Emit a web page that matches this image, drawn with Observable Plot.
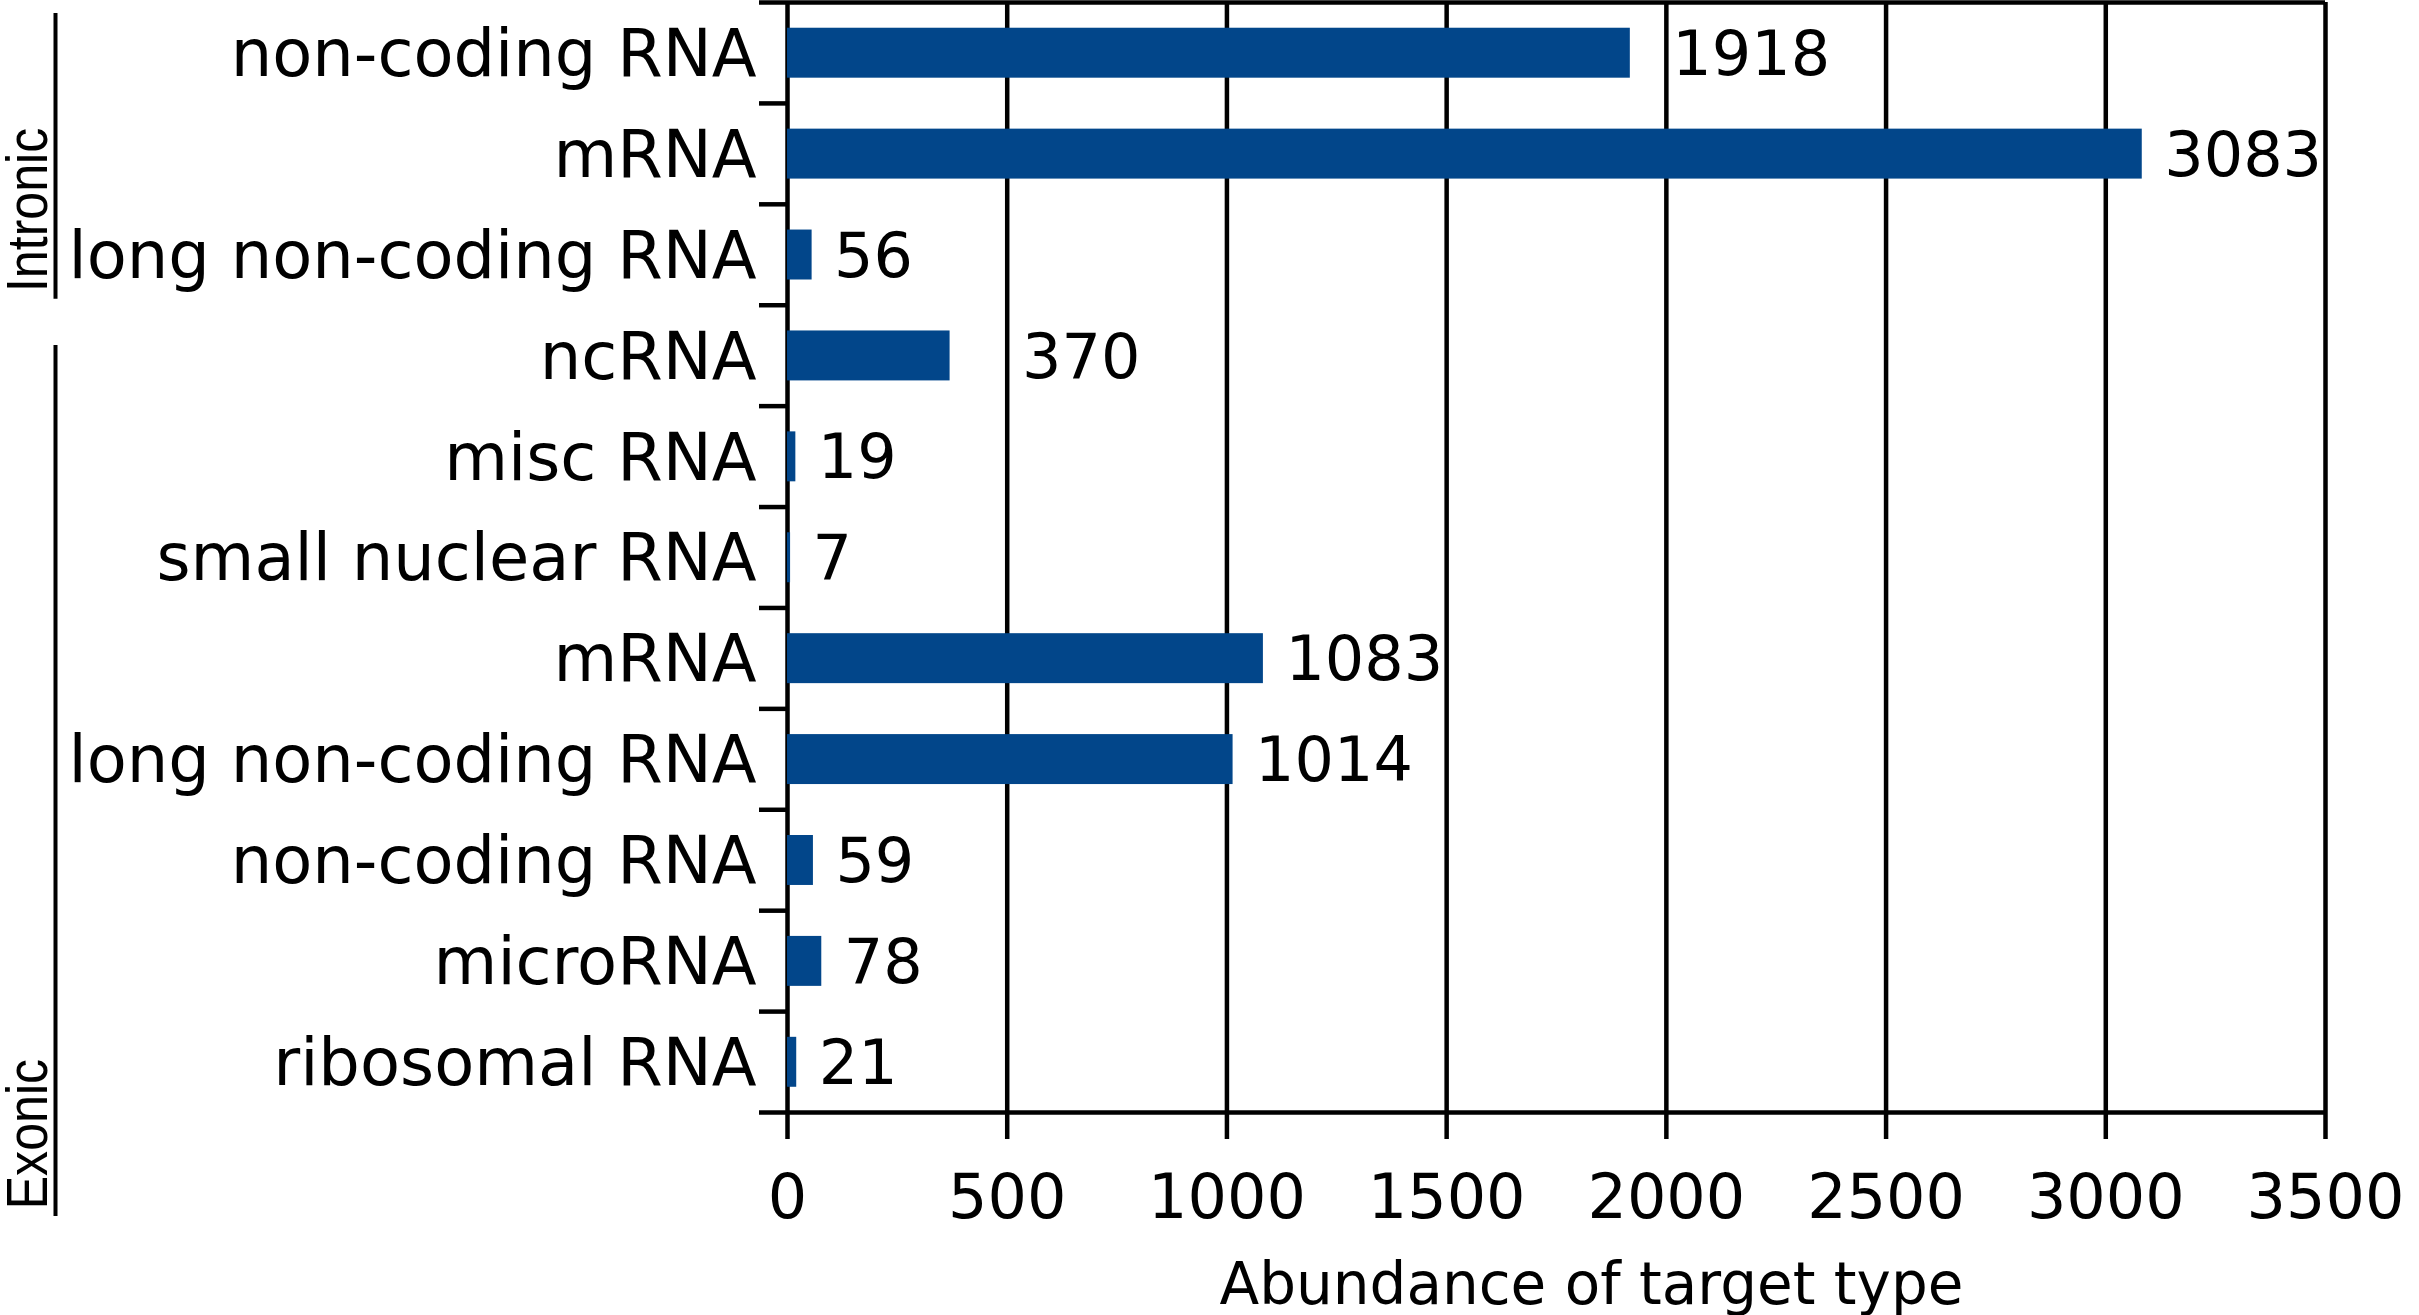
<!DOCTYPE html>
<html>
<head>
<meta charset="utf-8">
<script src="https://cdn.jsdelivr.net/npm/d3@7"></script>
<script src="https://cdn.jsdelivr.net/npm/@observablehq/plot@0.6"></script>
<style>
  html, body { margin: 0; padding: 0; background: #fff; }
  svg { display: block; overflow: visible; }
</style>
</head>
<body>
<div id="chart"></div>
<script>
// ---- data ----
const rowLabels = [
  "non-coding RNA", "mRNA", "long non-coding RNA",
  "ncRNA", "misc RNA", "small nuclear RNA", "mRNA", "long non-coding RNA",
  "non-coding RNA", "microRNA", "ribosomal RNA"
];
const counts = [1918, 3083, 56, 370, 19, 7, 1083, 1014, 59, 78, 21];
const groupNames = ["Intronic", "Exonic"];
const groupSpanTop = [0.11, 3.4];      // bracket extent, in row units
const groupSpanBottom = [2.94, 12.03];
const xTicks = [0, 500, 1000, 1500, 2000, 2500, 3000, 3500];
const xTitle = "Abundance of target type";

const rows = rowLabels.map((label, i) => ({i, label, count: counts[i]}));
const groups = groupNames.map((name, k) => ({name, top: groupSpanTop[k], bottom: groupSpanBottom[k]}));
const rowBoundaries = d3.range(0, rowLabels.length + 1);

// label offsets (style): most value labels sit close to their bar, two sit further out
const farLabel = new Map([[0, 42], [3, 72]]);

const font = "'DejaVu Sans', Verdana, sans-serif";
const narrowFont = "'Liberation Sans Narrow', 'Liberation Sans', Arial, sans-serif";
const barColor = "#02468a";
const lineW = 4.5;

const chart = Plot.plot({
  width: 2419,
  height: 1315,
  marginLeft: 787,
  marginRight: 94,
  marginTop: 2,
  marginBottom: 203,
  style: {fontFamily: font, background: "#fff", color: "#000", overflow: "visible"},
  x: {domain: [0, 3500]},
  y: {domain: [0, rowLabels.length], reverse: true},
  marks: [
    Plot.gridX(xTicks, {stroke: "#000", strokeOpacity: 1, strokeWidth: lineW}),
    Plot.ruleY([0], {stroke: "#000", strokeWidth: lineW}),
    Plot.ruleY([rowLabels.length], {stroke: "#000", strokeWidth: lineW}),
    Plot.axisX(xTicks, {
      tickSize: 27, tickPadding: 34, strokeWidth: lineW, color: "#000",
      fontSize: 62, tickFormat: d => String(d), label: null
    }),
    Plot.axisY(rowBoundaries, {
      tickSize: 28, strokeWidth: lineW, color: "#000",
      tickFormat: () => "", label: null
    }),
    Plot.rect(rows, {
      x1: 0, x2: "count",
      y1: d => d.i + 0.255, y2: d => d.i + 0.75,
      fill: barColor
    }),
    Plot.text(rows, {
      x: 0, y: d => d.i + 0.5, text: "label",
      textAnchor: "end", dx: -31, dy: 2, fontSize: 65.5, fill: "#000"
    }),
    Plot.text(rows.filter(d => !farLabel.has(d.i)), {
      x: "count", y: d => d.i + 0.5, text: d => String(d.count),
      textAnchor: "start", dx: 22, dy: 2, fontSize: 62, fill: "#000"
    }),
    Plot.text(rows.filter(d => d.i === 0), {
      x: "count", y: d => d.i + 0.5, text: d => String(d.count),
      textAnchor: "start", dx: farLabel.get(0), dy: 2, fontSize: 62, fill: "#000"
    }),
    Plot.text(rows.filter(d => d.i === 3), {
      x: "count", y: d => d.i + 0.5, text: d => String(d.count),
      textAnchor: "start", dx: farLabel.get(3), dy: 2, fontSize: 62, fill: "#000"
    }),
    Plot.ruleX(groups, {
      x: 0, y1: "top", y2: "bottom", dx: -732, stroke: "#000", strokeWidth: 4
    }),
    Plot.text(groups, {
      x: 0, y: d => d.bottom - 0.07, text: "name", rotate: -90,
      textAnchor: "start", lineAnchor: "bottom", dx: -741,
      fontSize: 57, fontFamily: narrowFont, fill: "#000"
    }),
    Plot.text([xTitle], {
      frameAnchor: "bottom", text: d => d, dx: 35, dy: 191,
      lineAnchor: "bottom", fontSize: 58, fill: "#000"
    })
  ]
});

// the group labels in the reference use a narrow face: compress them along the text direction
d3.select(chart).selectAll("text").each(function () {
  const t = d3.select(this);
  const tr = t.attr("transform");
  if (groupNames.includes(this.textContent) && tr && tr.includes("rotate")) {
    t.attr("transform", tr + " scale(0.88,1)");
  }
});

document.getElementById("chart").appendChild(chart);
</script>
</body>
</html>
